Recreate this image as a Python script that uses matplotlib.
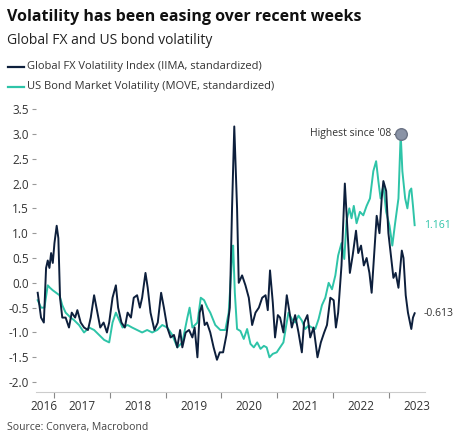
import matplotlib
matplotlib.use("Agg")
import matplotlib.pyplot as plt
from matplotlib.lines import Line2D

plt.rcParams['font.family'] = ['Open Sans', 'DejaVu Sans']

fx_t = [2016.71,2016.77,2016.82,2016.86,2016.89,2016.92,2016.95,2016.98,2017.01,2017.05,2017.08,2017.11,2017.15,2017.21,2017.27,2017.32,2017.38,2017.42,2017.48,2017.54,2017.61,2017.66,2017.72,2017.78,2017.83,2017.89,2017.95,2017.99,2018.05,2018.11,2018.15,2018.21,2018.27,2018.32,2018.38,2018.43,2018.49,2018.54,2018.58,2018.64,2018.68,2018.73,2018.80,2018.86,2018.92,2018.97,2019.03,2019.09,2019.15,2019.21,2019.26,2019.30,2019.36,2019.42,2019.48,2019.52,2019.57,2019.61,2019.65,2019.70,2019.74,2019.80,2019.86,2019.92,2019.97,2020.03,2020.09,2020.15,2020.19,2020.23,2020.28,2020.31,2020.37,2020.43,2020.49,2020.55,2020.61,2020.67,2020.73,2020.79,2020.83,2020.87,2020.92,2020.96,2021.01,2021.05,2021.11,2021.17,2021.22,2021.26,2021.32,2021.38,2021.44,2021.48,2021.54,2021.59,2021.65,2021.72,2021.78,2021.84,2021.89,2021.95,2022.01,2022.05,2022.09,2022.15,2022.21,2022.26,2022.30,2022.35,2022.41,2022.45,2022.50,2022.55,2022.60,2022.65,2022.69,2022.73,2022.78,2022.83,2022.87,2022.90,2022.95,2022.99,2023.03,2023.08,2023.12,2023.17,2023.23,2023.26,2023.30,2023.34,2023.40,2023.43,2023.46]
fx_v = [-0.2,-0.7,-0.8,0.3,0.45,0.3,0.6,0.4,0.8,1.15,0.9,-0.3,-0.7,-0.7,-0.9,-0.6,-0.7,-0.55,-0.8,-0.9,-0.95,-0.7,-0.25,-0.6,-0.9,-0.8,-1.0,-0.8,-0.3,-0.05,-0.5,-0.8,-0.9,-0.6,-0.7,-0.3,-0.25,-0.5,-0.3,0.2,-0.1,-0.6,-0.95,-0.8,-0.2,-0.5,-0.9,-1.1,-1.05,-1.3,-0.95,-1.3,-1.0,-0.95,-1.1,-0.9,-1.5,-0.6,-0.45,-0.85,-0.8,-1.0,-1.3,-1.55,-1.4,-1.4,-1.05,-0.5,1.5,3.15,1.5,0.0,0.15,-0.05,-0.3,-0.85,-0.6,-0.5,-0.3,-0.25,-0.55,0.25,-0.4,-1.1,-0.65,-0.7,-1.0,-0.25,-0.6,-0.9,-0.65,-1.0,-1.4,-0.8,-0.65,-1.1,-0.9,-1.5,-1.2,-1.0,-0.85,-0.3,-0.35,-0.9,-0.6,0.35,2.0,1.0,0.2,0.55,1.05,0.6,0.75,0.35,0.5,0.2,-0.2,0.5,1.35,1.0,1.7,2.05,1.85,1.0,0.6,0.1,0.2,-0.1,0.65,0.5,-0.25,-0.6,-0.93,-0.7,-0.613]

mv_t = [2016.71,2016.77,2016.83,2016.89,2016.93,2016.98,2017.04,2017.10,2017.15,2017.21,2017.30,2017.36,2017.45,2017.54,2017.63,2017.72,2017.81,2017.90,2017.99,2018.05,2018.11,2018.17,2018.23,2018.32,2018.40,2018.49,2018.58,2018.67,2018.76,2018.85,2018.94,2019.03,2019.12,2019.21,2019.30,2019.39,2019.43,2019.48,2019.57,2019.63,2019.69,2019.75,2019.80,2019.89,2019.98,2020.07,2020.13,2020.19,2020.21,2020.24,2020.28,2020.34,2020.40,2020.46,2020.52,2020.58,2020.64,2020.70,2020.76,2020.81,2020.86,2020.92,2020.99,2021.05,2021.11,2021.16,2021.20,2021.26,2021.32,2021.38,2021.44,2021.50,2021.56,2021.62,2021.68,2021.74,2021.80,2021.86,2021.92,2021.98,2022.04,2022.09,2022.15,2022.20,2022.24,2022.29,2022.33,2022.37,2022.42,2022.48,2022.54,2022.60,2022.66,2022.72,2022.77,2022.81,2022.85,2022.90,2022.95,2023.01,2023.06,2023.11,2023.17,2023.21,2023.24,2023.29,2023.33,2023.37,2023.40,2023.43,2023.46]
mv_v = [-0.35,-0.5,-0.5,-0.05,-0.1,-0.15,-0.2,-0.25,-0.45,-0.6,-0.7,-0.75,-0.85,-1.0,-0.9,-0.95,-1.05,-1.15,-1.2,-0.8,-0.6,-0.75,-0.9,-0.85,-0.9,-0.95,-1.0,-0.95,-1.0,-0.95,-0.85,-0.9,-1.05,-1.3,-1.2,-0.7,-0.5,-0.9,-0.8,-0.3,-0.35,-0.5,-0.6,-0.85,-0.95,-0.95,-0.6,0.5,0.75,-0.2,-0.93,-0.97,-1.13,-0.93,-1.23,-1.3,-1.2,-1.33,-1.27,-1.3,-1.5,-1.43,-1.4,-1.3,-1.2,-0.86,-0.6,-0.73,-0.8,-0.66,-0.76,-0.93,-0.86,-0.9,-0.93,-0.73,-0.45,-0.3,0.0,-0.13,0.15,0.55,0.8,0.48,1.25,1.5,1.3,1.55,1.2,1.43,1.36,1.55,1.7,2.25,2.45,2.05,1.7,1.95,1.43,1.15,0.75,1.2,1.7,3.0,2.25,1.7,1.5,1.85,1.9,1.55,1.161]

years = [2016, 2017, 2018, 2019, 2020, 2021, 2022, 2023]
yticks = [-2.0, -1.5, -1.0, -0.5, 0.0, 0.5, 1.0, 1.5, 2.0, 2.5, 3.0, 3.5]

DARK = '#0d1f3c'
TEAL = '#2ec4a8'
TXT = '#333333'

fig = plt.figure(figsize=(4.74, 4.43), dpi=100)
ax = fig.add_axes([0.076, 0.115, 0.82, 0.65])
ax.plot(mv_t, mv_v, color=TEAL, lw=1.4)
ax.plot(fx_t, fx_v, color=DARK, lw=1.4)

ax.set_xlim(2016.68, 2023.64)
ax.set_ylim(-2.2, 3.6)
ax.set_yticks(yticks)
ax.set_yticklabels([f"{v:.1f}" for v in yticks], fontsize=8.5, color=TXT)
ax.set_xticks(years[1:])
ax.set_xticklabels([])
ax.set_xticks([max(y + 0.5, 2016.82) for y in years], minor=True)
ax.set_xticklabels([str(y) for y in years], minor=True, fontsize=8.5, color=TXT)
ax.tick_params(axis='x', which='minor', length=0, pad=6)
ax.tick_params(axis='x', which='major', length=4, color='#888888')
ax.tick_params(axis='y', length=3, color='#999999', pad=2)
for s in ['top', 'right', 'left']:
    ax.spines[s].set_visible(False)
ax.spines['bottom'].set_color('#cccccc')

# annotation
ax.scatter([mv_t[103]], [mv_v[103]], s=70, color='#8a93a6', edgecolor='#6b7385', zorder=5)
ax.plot([mv_t[103] - 0.12, mv_t[103] - 0.04], [3.0, 3.0], color='#666666', lw=0.8)
ax.text(mv_t[103] - 0.17, 3.0, "Highest since '08", ha='right', va='center', fontsize=7.5, color=TXT)
ax.text(2023.62, mv_v[-1], f"{mv_v[-1]:.3f}", color=TEAL, fontsize=7.5, va='center', ha='left')
ax.text(2023.62, fx_v[-1], f"{fx_v[-1]:.3f}", color=TXT, fontsize=7.5, va='center', ha='left')

fig.text(0.015, 0.962, "Volatility has been easing over recent weeks", fontsize=11.5, fontweight='bold', color='#111111', va='center')
fig.text(0.015, 0.908, "Global FX and US bond volatility", fontsize=10, color='#222222', va='center')
fig.add_artist(Line2D([0.017, 0.05], [0.849, 0.849], color=DARK, lw=1.6))
fig.text(0.058, 0.849, "Global FX Volatility Index (IIMA, standardized)", fontsize=8, color=TXT, va='center')
fig.add_artist(Line2D([0.017, 0.05], [0.804, 0.804], color=TEAL, lw=1.6))
fig.text(0.058, 0.804, "US Bond Market Volatility (MOVE, standardized)", fontsize=8, color=TXT, va='center')
fig.text(0.015, 0.035, "Source: Convera, Macrobond", fontsize=7.5, color='#444444', va='center')

fig.savefig("out.png", dpi=100)
